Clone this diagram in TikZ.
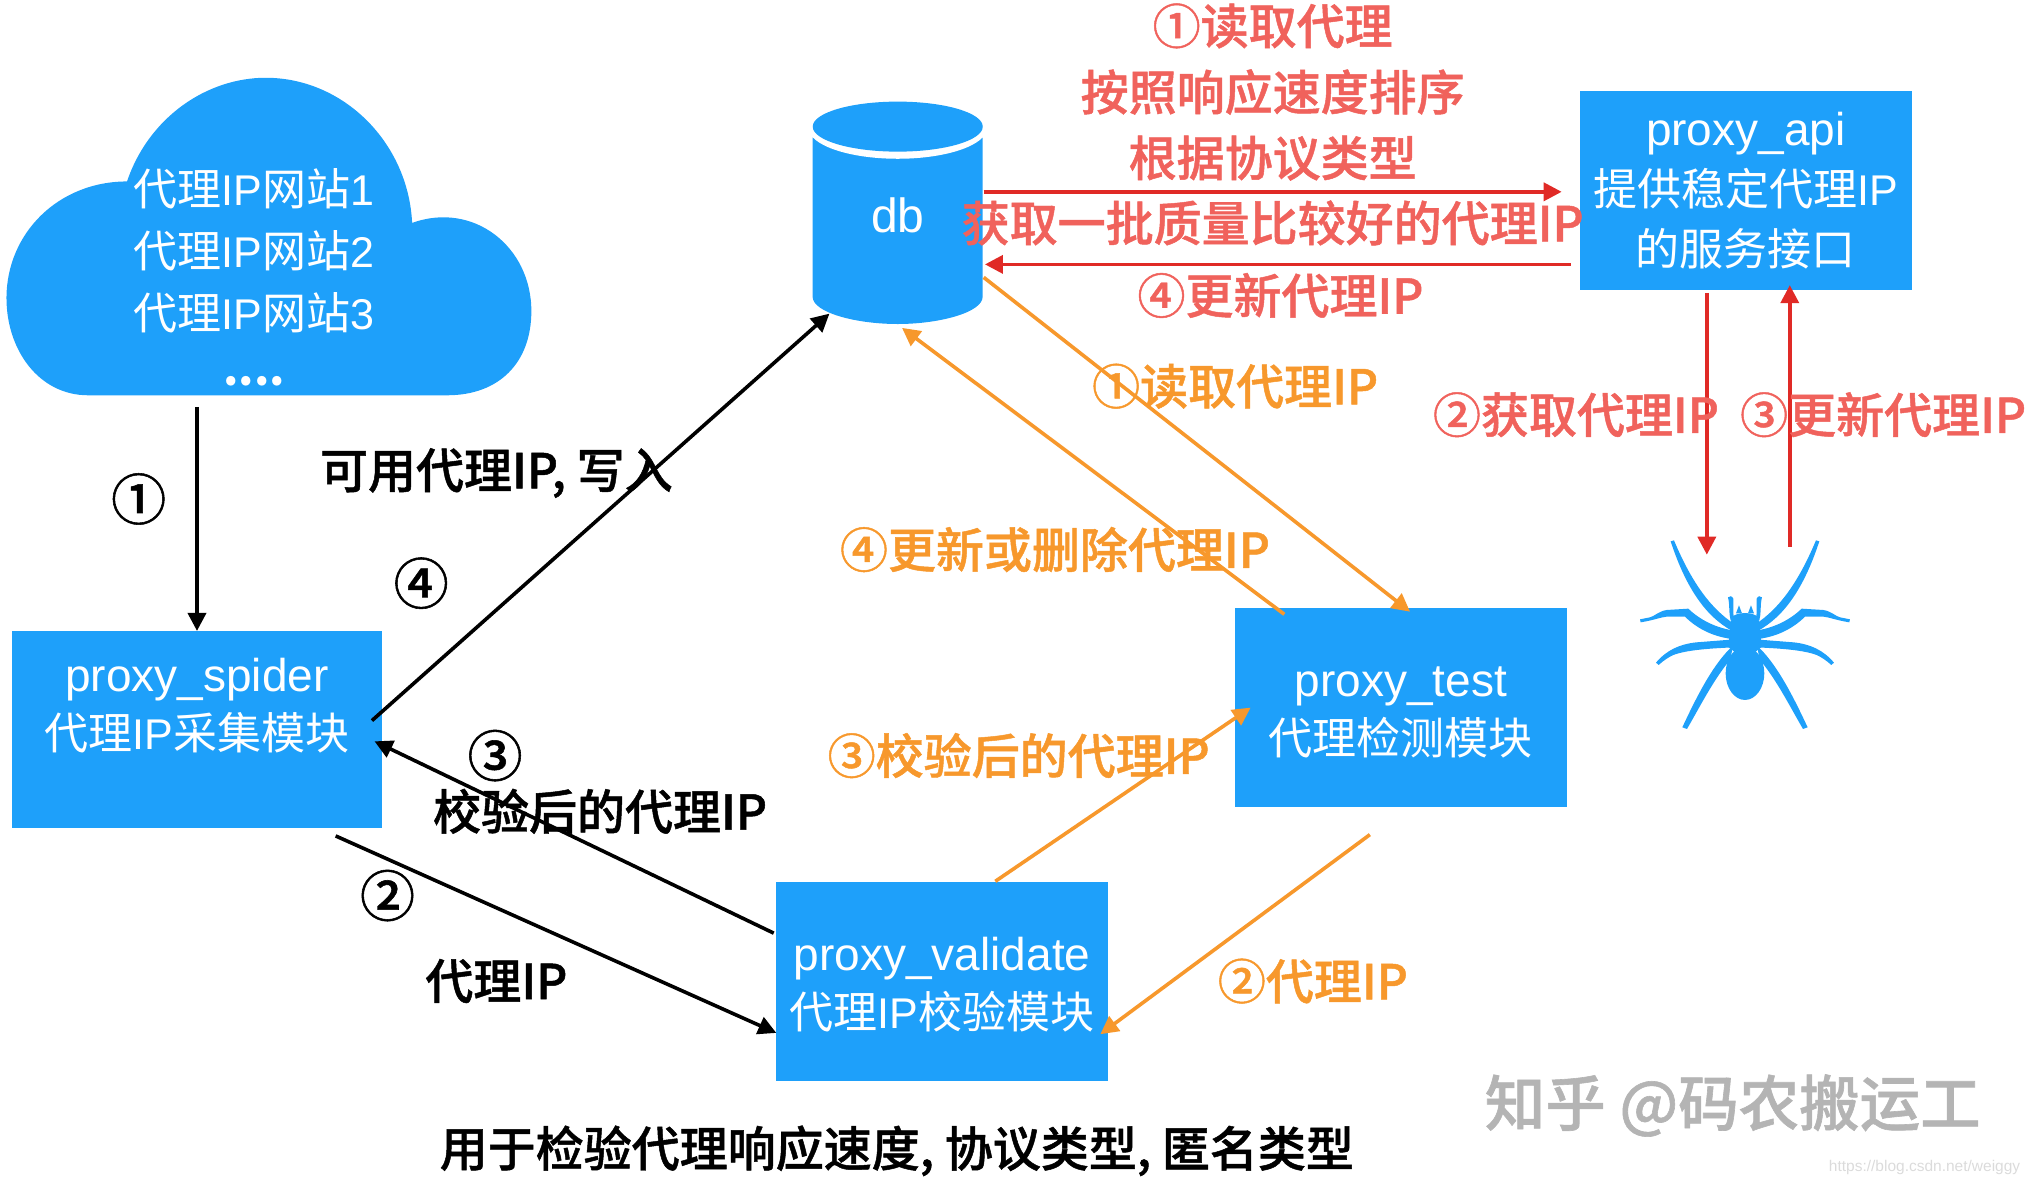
\documentclass[tikz,border=0pt]{standalone}
\usepackage{fontspec}
\setmainfont{Noto Sans CJK SC}
\newfontfamily\medface[FakeBold=1]{Noto Sans CJK SC Medium}
\newfontfamily\latinface{Liberation Sans}
\usetikzlibrary{arrows.meta}
\definecolor{bluebox}{HTML}{1EA0FA}
\definecolor{redline}{HTML}{E02A26}
\definecolor{redtext}{HTML}{F0625C}
\definecolor{orangeline}{HTML}{F7982C}
\definecolor{wm}{HTML}{B4B4B4}
\newcommand{\lat}[1]{{\latinface\fontsize{46}{56}\selectfont #1}}
\newcommand{\ipt}[1]{{\latinface\fontsize{43}{56}\selectfont #1}}
\tikzset{
  box/.style={fill=bluebox,text=white,minimum width=332pt,minimum height=199pt,inner sep=0pt,align=center,font=\fontsize{44}{58}\selectfont},
  arrowbase/.style={line width=3.6pt,-{Triangle[length=18pt,width=18pt]},shorten >=0pt},
  blackarrow/.style={arrowbase,draw=black},
  orangearrow/.style={arrowbase,draw=orangeline},
  redarrow/.style={arrowbase,draw=redline},
  redlabel/.style={text=redtext,font=\medface\fontsize{48}{50}\selectfont,inner sep=0pt},
  orangelabel/.style={text=orangeline,font=\medface\fontsize{48}{50}\selectfont,inner sep=0pt},
  blacklabel/.style={text=black,font=\medface\fontsize{48}{50}\selectfont,inner sep=0pt},
  numlabel/.style={text=black,font=\medface\fontsize{55}{55}\selectfont,inner sep=0pt},
  spiderfill/.style={fill=bluebox,draw=none}
}
\newcommand{\spiderhalf}{%
  \fill[spiderfill] (332,124) -- (342,121) .. controls (400,260) and (460,330) .. (520,370) -- (515,392) .. controls (440,350) and (380,270) .. (332,124) -- cycle;
  \fill[spiderfill] (240,358) -- (270,352) .. controls (285,348) and (295,334) .. (320,330) -- (385,326) .. controls (420,360) and (470,385) .. (525,392) -- (525,418) .. controls (460,412) and (410,385) .. (375,350) -- (320,350) .. controls (300,352) and (285,360) .. (242,367) -- cycle;
  \fill[spiderfill] (288,488) .. controls (320,450) and (360,432) .. (410,427) -- (525,418) -- (525,442) .. controls (450,445) and (380,450) .. (340,465) .. controls (325,472) and (310,482) .. (296,495) -- cycle;
  \fill[spiderfill] (367,682) .. controls (410,590) and (460,490) .. (520,436) -- (510,480) .. controls (460,540) and (420,620) .. (381,687) -- cycle;
  \fill[spiderfill] (504,292) .. controls (510,286) and (516,288) .. (520,296) -- (520,340) -- (523,362) -- (512,362) .. controls (506,340) and (510,315) .. (504,292) -- cycle;
  \fill[spiderfill] (528,340) -- (537,316) -- (546,340) -- cycle;
}
\begin{document}
\begin{tikzpicture}[x=1.296pt,y=-1.296pt]
\useasboundingbox (0,0) rectangle (1567.9,913.6);
% cloud
\fill[bluebox] (68,305) .. controls (30,305) and (5,270) .. (5,230) .. controls (5,180) and (45,140) .. (98,140) .. controls (115,90) and (160,60) .. (205,60) .. controls (265,60) and (315,110) .. (318,172) .. controls (365,155) and (410,190) .. (410,240) .. controls (410,280) and (385,305) .. (345,305) -- cycle;
\node[text=white,align=center,inner sep=0pt,font=\fontsize{44}{62}\selectfont] (cloud) at (196,214) {代理\ipt{IP}网站\ipt{1}\\代理\ipt{IP}网站\ipt{2}\\代理\ipt{IP}网站\ipt{3}\\[-6pt]{\bfseries ....}};
% db
\fill[bluebox] (627,106) -- (627,229) .. controls (627,241) and (660,250) .. (692.7,250) .. controls (725,250) and (758.2,241) .. (758.2,229) -- (758.2,106) -- cycle;
\fill[white] (692.7,98.5) ellipse[x radius=69,y radius=24];
\fill[bluebox] (692.7,97.7) ellipse[x radius=65.6,y radius=19.3];
\node[text=white,inner sep=0pt,font=\latinface\fontsize{48}{50}\selectfont] (db) at (692.7,166) {db};
% boxes
\node[box,minimum width=370pt,minimum height=197pt] (spider) at (152,563) {\lat{proxy\_spider}\\代理\ipt{IP}采集模块\\[-6pt]\ };
\node[box] (validate) at (727,757) {\rule{0pt}{41pt}\lat{proxy\_validate}\\代理\ipt{IP}校验模块};
\node[box] (test) at (1081,546) {\rule{0pt}{39pt}\lat{proxy\_test}\\代理检测模块};
\node[box,font=\fontsize{44}{60}\selectfont] (api) at (1347,147) {\lat{proxy\_api}\\提供稳定代理\ipt{IP}\\的服务接口};
% spider
\begin{scope}[shift={(1560pt,-500pt)},x=.3333pt,y=-.3333pt]
  \spiderhalf
  \begin{scope}[shift={(1110,0)},xscale=-1]\spiderhalf\end{scope}
  \fill[spiderfill] (555,520) ellipse[x radius=58,y radius=80];
  \fill[spiderfill] (515,352) .. controls (530,335) and (580,335) .. (595,352) -- (606,440) -- (555,480) -- (504,440) -- cycle;
\end{scope}
% free ends
\coordinate (c1) at (152,314);
\coordinate (s1) at (287,556);
\coordinate (d1) at (640,242);
\coordinate (v1) at (597,720);
\coordinate (s2) at (289,572);
\coordinate (s3) at (259,645);
\coordinate (v2) at (599,797);
\coordinate (v3) at (768,680);
\coordinate (t1) at (965,546);
\coordinate (t2) at (1057,644);
\coordinate (v4) at (849,798);
\coordinate (t3) at (991,474);
\coordinate (d2) at (696,253);
\coordinate (d3) at (759,214);
\coordinate (t4) at (1088,472);
\coordinate (d4) at (759,148);
\coordinate (a1) at (1205,148);
\coordinate (a2) at (1212,204);
\coordinate (d5) at (760,204);
\coordinate (a3) at (1317,226);
\coordinate (w1) at (1317,428);
\coordinate (w2) at (1381,422);
\coordinate (a4) at (1381,220);
% connectors
\draw[blackarrow] (c1) -- (spider.north);
\draw[blackarrow] (s1) -- (d1);
\draw[blackarrow] (v1) -- (s2);
\draw[blackarrow] (s3) -- (v2);
\draw[orangearrow] (v3) -- (t1);
\draw[orangearrow] (t2) -- (v4);
\draw[orangearrow] (t3) -- (d2);
\draw[orangearrow] (d3) -- (t4);
\draw[redarrow] (d4) -- (a1);
\draw[redarrow] (a2) -- (d5);
\draw[redarrow] (a3) -- (w1);
\draw[redarrow] (w2) -- (a4);
% labels
\node[redlabel] (r1) at (982,20) {①读取代理};
\node[redlabel] (r2) at (982,71) {按照响应速度排序};
\node[redlabel] (r3) at (982,122) {根据协议类型};
\node[redlabel] (r4) at (982,172) {获取一批质量比较好的代理IP};
\node[redlabel] (r5) at (988,228) {④更新代理IP};
\node[redlabel] (r6) at (1216,320) {②获取代理IP};
\node[redlabel] (r7) at (1453,320) {③更新代理IP};
\node[orangelabel] (o1) at (953,298) {①读取代理IP};
\node[orangelabel] (o2) at (814,424) {④更新或删除代理IP};
\node[orangelabel] (o3) at (786,583) {③校验后的代理IP};
\node[orangelabel] (o4) at (1013,757) {②代理IP};
\node[numlabel] (b1) at (107,385) {①};
\node[blacklabel] (b2) at (383,365) {可用代理IP, 写入};
\node[numlabel] (b3) at (325,450) {④};
\node[numlabel] (b4) at (382,583) {③};
\node[blacklabel] (b5) at (463,626) {校验后的代理IP};
\node[numlabel] (b6) at (299,691) {②};
\node[blacklabel] (b7) at (383,757) {代理IP};
\node[blacklabel] (b8) at (692,888) {用于检验代理响应速度, 协议类型, 匿名类型};
% watermark
\node[text=wm,inner sep=0pt,font=\medface\fontsize{60.5}{62}\selectfont] (wm1) at (1337,853) {知乎 @码农搬运工};
\node[text=black!14,inner sep=0pt,font=\latinface\fontsize{15.5}{18}\selectfont] (wm2) at (1485,901) {https://blog.csdn.net/weiggy};
\end{tikzpicture}
\end{document}
